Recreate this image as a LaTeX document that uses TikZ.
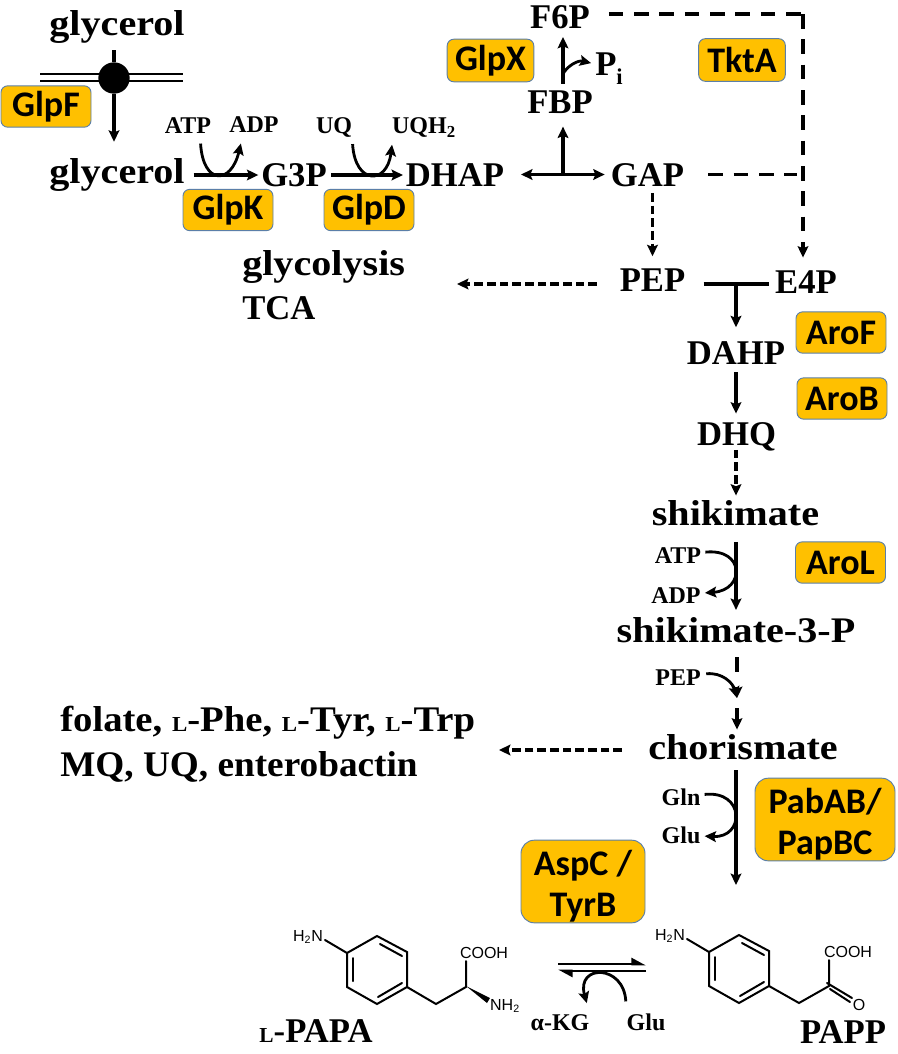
\documentclass[tikz,border=0pt]{standalone}
\usepackage{fontspec}
\setmainfont{Liberation Serif}
\newfontfamily\widefont[FakeStretch=1.115]{Liberation Serif}
\newfontfamily\folatefont[FakeStretch=1.075]{Liberation Serif}
\newfontfamily\mqfont[FakeStretch=1.035]{Liberation Serif}
\newfontfamily\enzfont{Carlito}
\newfontfamily\chemfont{Liberation Sans}
\usetikzlibrary{arrows.meta,positioning}
\definecolor{enzfill}{HTML}{FFC000}
\definecolor{enzline}{HTML}{5B7FA8}
\newcommand{\smallL}{{\fontsize{16}{16}\selectfont L}}
\tikzset{
  metab/.style={inner sep=0pt,text height=17.25pt,text depth=0pt,font=\fontsize{26}{26}\selectfont\bfseries},
  metabw/.style={inner sep=0pt,text height=17.25pt,text depth=0pt,font=\fontsize{27}{27}\selectfont\widefont\bfseries},
  cofac/.style={inner sep=0pt,text height=12.5pt,text depth=0pt,font=\fontsize{18}{18}\selectfont\bfseries},
  chem/.style={inner sep=0pt,font=\fontsize{12}{12}\selectfont\chemfont},
  enzyme/.style={draw=enzline,fill=enzfill,line width=0.7pt,rounded corners=5pt,inner sep=0pt,
    minimum width=67.5pt,minimum height=31pt,font=\fontsize{27}{27}\selectfont\enzfont\bfseries},
  enzymebig/.style={enzyme,rounded corners=10pt,align=center,minimum height=62pt},
  rxn/.style={line width=2.3pt,-{Stealth[length=8.5pt,width=8pt,inset=1.5pt]}},
  curved/.style={rxn,line width=2.1pt},
  plainline/.style={line width=2.3pt},
  dashlong/.style={line width=2.5pt,dash pattern=on 11pt off 8pt},
  dashshort/.style={rxn,dash pattern=on 6.5pt off 3pt},
  bond/.style={line width=1.5pt,line cap=round}
}
\begin{document}
\begin{tikzpicture}[x=0.75pt,y=-0.75pt]
  \useasboundingbox (0,0) rectangle (898,1054);
  % metabolites, top part
  \node[metabw] (glycerolA) at (117,23.5) {glycerol};
  \node[metabw] (glycerolB) at (117,171.5) {glycerol};
  \node[metab] (gtp) at (294,174.5) {G3P};
  \node[metab] (dhap) at (455,174.5) {DHAP};
  \node[metab] (gap) at (647.5,174.5) {GAP};
  \node[metab] (fbp) at (560,101.5) {FBP};
  \node[metab] (fsp) at (560,16.5) {F6P};
  \node[metab,anchor=west] (pi) at (595,64) {P\raisebox{-7pt}{\fontsize{17}{17}\selectfont i}};
  \node[metab] (pep) at (652.5,280) {PEP};
  \node[metab] (efp) at (806,282) {E4P};
  \node[metabw,anchor=west] (glyc) at (242,263.5) {glycolysis};
  \node[metab,anchor=west] (tca) at (242,307.5) {TCA};
  % metabolites, main column
  \node[metab] (dahp) at (736,353) {DAHP};
  \node[metab] (dhq) at (736.5,434) {DHQ};
  \node[metabw] (shik) at (735.5,514) {shikimate};
  \node[metabw] (shikp) at (736,631) {shikimate-3-P};
  \node[metabw] (chor) at (743,748) {chorismate};
  \node[metabw,anchor=west] (folate) at (60,720) {\folatefont folate, \smallL-Phe, \smallL-Tyr, \smallL-Trp};
  \node[metabw,anchor=west] (mq) at (60,765) {\mqfont MQ, UQ, enterobactin};
  \node[metab] (lpapa) at (316,1031) {\smallL-PAPA};
  \node[metab] (papp) at (843,1032) {PAPP};
  % cofactors
  \node[cofac] (atpk) at (188,125) {ATP};
  \node[cofac] (adpk) at (254,124.5) {ADP};
  \node[cofac] (uq) at (334,125.5) {UQ};
  \node[cofac] (uqh) at (424,125.5) {UQH\textsubscript{2}};
  \node[cofac] (atpl) at (678,555) {ATP};
  \node[cofac] (adpl) at (676,595) {ADP};
  \node[cofac] (pepc) at (678,677) {PEP};
  \node[cofac] (gln) at (681,797) {Gln};
  \node[cofac] (glua) at (681,835) {Glu};
  \node[cofac] (akg) at (560,1022) {α-KG};
  \node[cofac] (glub) at (646,1022) {Glu};
  % enzymes
  \node[enzyme] (glpf) at (46,106.5) {GlpF};
  \node[enzyme] (glpk) at (228,210) {GlpK};
  \node[enzyme] (glpd) at (369,210) {GlpD};
  \node[enzyme,minimum width=65pt,minimum height=32pt] (glpx) at (490.5,60.5) {GlpX};
  \node[enzyme,minimum width=65pt,minimum height=32pt] (tkta) at (742,60) {TktA};
  \node[enzyme] (arof) at (841,332.5) {AroF};
  \node[enzyme] (arob) at (842,398.5) {AroB};
  \node[enzyme] (arol) at (840.5,562.5) {AroL};
  \node[enzymebig,minimum width=105pt] (pabab) at (825,819.5) {\rule{0pt}{26pt}PabAB/\\[4pt]PapBC};
  \node[enzymebig,minimum width=93pt] (aspc) at (583,881.5) {\rule{0pt}{26pt}AspC /\\[4pt]TyrB};
  % glycerol uptake
  \foreach \y in {74,81} \draw[line width=1.8pt] (40,\y) -- (183,\y);
  \node[circle,fill=black,inner sep=0pt,minimum size=23.5pt] (pore) at (114,78) {};
  \coordinate (poretop) at (114,50);
  \draw[plainline] (poretop) -- (pore);
  \draw[rxn,shorten >=13.5pt] (pore) -- (pore |- glycerolB.north);
  % glycerol to DHAP
  \draw[rxn,shorten <=6.5pt,shorten >=2pt] (glycerolB.east |- 0,175) -- (gtp.west |- 0,175);
  \draw[rxn,shorten <=3pt,shorten >=2pt] (gtp.east |- 0,175) -- (dhap.west |- 0,175);
  \draw[curved,shorten <=7.5pt,shorten >=8pt] ([xshift=9pt]atpk.south) .. controls (203,185) and (231,185) .. ([xshift=-8pt]adpk.south);
  \draw[curved,shorten <=7.5pt,shorten >=8pt] ([xshift=13.5pt]uq.south) .. controls (355,185) and (387,185) .. ([xshift=-23pt]uqh.south);
  % lower glycolysis branch point
  \coordinate (gapjoin) at (563,175);
  \draw[line width=2.3pt,{Stealth[length=8.5pt,width=8pt,inset=1.5pt]}-{Stealth[length=8.5pt,width=8pt,inset=1.5pt]},shorten <=12.5pt,shorten >=4.5pt] (dhap.east) -- (gap.west);
  \draw[rxn,shorten >=10pt] (gapjoin) -- (gapjoin |- fbp.south);
  \draw[rxn,shorten <=4.5pt,shorten >=6.5pt] ([xshift=2.25pt]fbp.north) -- ([xshift=2.25pt]fsp.south);
  \coordinate (fbpstem) at (563,74);
  \draw[curved,shorten >=3pt] (fbpstem) .. controls (567,66) and (578,60) .. (pi.west);
  % transketolase
  \coordinate (tktcorner) at (803,14);
  \draw[dashlong,shorten <=14pt] (fsp.east |- tktcorner) -- (tktcorner);
  \draw[dashlong,-{Stealth[length=8.5pt,width=8pt,inset=1.5pt]},dash pattern=on 11pt off 8pt,shorten >=9.5pt] (tktcorner) -- (tktcorner |- efp.north);
  \draw[dashlong,shorten <=18pt,shorten >=4.5pt] (gap.east) -- (gap.east -| tktcorner);
  \draw[dashshort,shorten <=5pt,shorten >=9pt] (gap.south -| pep.north) -- (pep.north);
  \coordinate (glycend) at (457,284);
  \draw[dashshort,shorten <=17pt] (pep.west |- glycend) -- (glycend);
  % aromatic column
  \coordinate (pepjoin) at (736,284);
  \draw[plainline,shorten <=13.5pt,shorten >=4.5pt] (pep.east |- pepjoin) -- (pepjoin -| efp.west);
  \draw[rxn,shorten >=10.5pt] (pepjoin) -- (dahp.north);
  \draw[rxn,shorten <=5.5pt,shorten >=6.5pt] (dahp.south) -- (dahp.south |- dhq.north);
  \draw[dashshort,shorten <=3pt,shorten >=5pt] (dahp.south |- dhq.south) -- (dahp.south |- shik.north);
  \draw[rxn,shorten <=12pt,shorten >=7pt] (dahp.south |- shik.south) -- (dahp.south |- shikp.north);
  \draw[curved,shorten <=3pt,shorten >=3pt] (atpl) .. controls (745,548) and (745,590) .. (adpl);
  \coordinate (pepmid) at (737,698);
  \coordinate (pepgap) at (737,708);
  \draw[rxn,dash pattern=on 11pt off 11pt,shorten <=11pt] (pepmid |- shikp.south) -- (pepmid);
  \draw[curved,shorten <=4pt] (pepc) .. controls (722,672) and (733,683) .. (pepmid);
  \draw[rxn,shorten >=5pt] (pepgap) -- (pepgap |- chor.north);
  \coordinate (foldend) at (499,750);
  \draw[dashshort,shorten <=19.5pt] (chor.west |- foldend) -- (foldend);
  \coordinate (chorend) at (736,885);
  \draw[rxn,shorten <=8pt] (chorend |- chor.south) -- (chorend);
  \draw[curved,shorten <=3pt,shorten >=3pt] (gln) .. controls (745,790) and (745,838) .. (glua);
  % transaminase arrows
  \coordinate (eqa) at (558,964);
  \coordinate (eqb) at (646,964);
  \coordinate (eqc) at (646,971);
  \coordinate (eqd) at (558,971);
  \draw[line width=2pt,-{Stealth[harpoon,length=9pt,width=9pt,inset=0pt]}] (eqa) -- (eqb);
  \draw[line width=2pt,-{Stealth[harpoon,length=9pt,width=9pt,inset=0pt]}] (eqc) -- (eqd);
  \draw[curved,shorten <=9pt,shorten >=8pt] (glub.north west) .. controls (624,964) and (576,964) .. (akg.north east);
  % L-PAPA
  \begin{scope}[shift={(0,0)}]
    \draw[bond] (347,953) -- (377,936) -- (407,952) -- (407,987) -- (377,1004) -- (347,987) -- cycle;
    \draw[bond] (353,958) -- (353,981);
    \draw[bond] (380,944) -- (402,956);
    \draw[bond] (378,997) -- (402,983);
    \draw[bond] (325,940) -- (347,953);
    \draw[bond] (407,987) -- (436,1004) -- (466,987) -- (466,961);
    \fill (466,986) -- (490,998) -- (487,1003) -- cycle;
    \node[chem] (hna) at (308,937) {H\textsubscript{2}N};
    \node[chem] (cooha) at (484,953) {COOH};
    \node[chem] (nha) at (505,1006) {NH\textsubscript{2}};
  \end{scope}
  % PAPP
  \begin{scope}[shift={(362,-1)}]
    \draw[bond] (347,953) -- (377,936) -- (407,952) -- (407,987) -- (377,1004) -- (347,987) -- cycle;
    \draw[bond] (353,958) -- (353,981);
    \draw[bond] (380,944) -- (402,956);
    \draw[bond] (378,997) -- (402,983);
    \draw[bond] (325,940) -- (347,953);
    \draw[bond] (407,987) -- (437,1004) -- (467,987) -- (467,961);
    \draw[bond] (465,984) -- (490,999);
    \draw[bond] (468,990) -- (488,1003);
    \node[chem] (hnb) at (308,937) {H\textsubscript{2}N};
    \node[chem] (coohb) at (486,953) {COOH};
    \node[chem] (ob) at (497,1006) {O};
  \end{scope}
\end{tikzpicture}
\end{document}
